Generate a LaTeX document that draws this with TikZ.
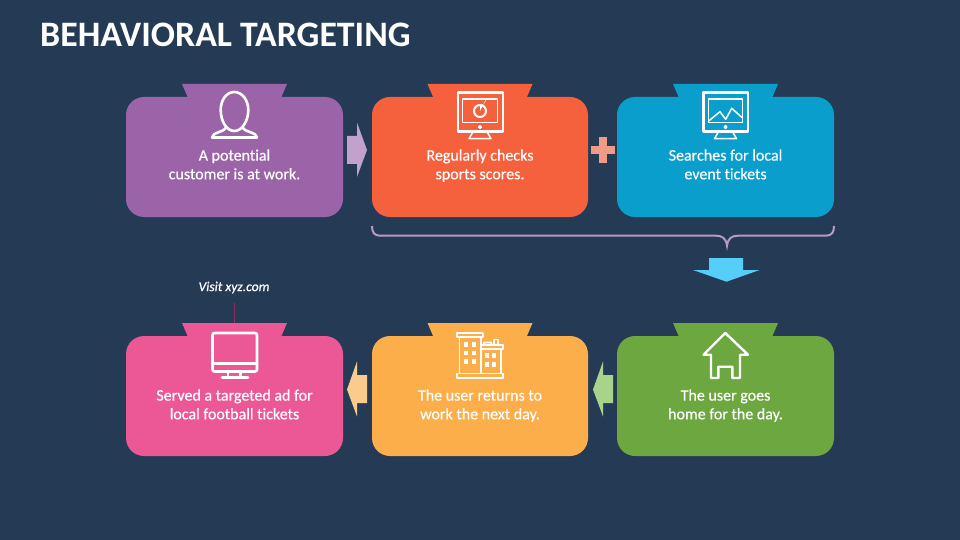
\documentclass[tikz,border=0pt]{standalone}
\usepackage{fontspec}
\setmainfont[Ligatures=NoCommon]{Carlito}
\newfontfamily\cardfont[Ligatures=NoCommon,FakeBold=0.35]{Carlito}
\newfontfamily\visitfont[Ligatures=NoCommon,FakeBold=0.7,ItalicFont={Carlito Italic}]{Carlito}
\definecolor{bg}{HTML}{253B55}
\definecolor{cpurple}{HTML}{9B63A8}
\definecolor{corange}{HTML}{F5603D}
\definecolor{cblue}{HTML}{0A9ECD}
\definecolor{cgreen}{HTML}{6CA73F}
\definecolor{cyellow}{HTML}{FBAE4A}
\definecolor{cpink}{HTML}{EB5895}
\definecolor{apurple}{HTML}{C2A1CD}
\definecolor{aplus}{HTML}{F09A88}
\definecolor{apeach}{HTML}{FBCB8E}
\definecolor{agreen}{HTML}{A7D38A}
\definecolor{acyan}{HTML}{55CFF8}
\definecolor{brace}{HTML}{B89AC8}
\definecolor{lead}{HTML}{8E2E62}
\tikzset{
  card/.style={rounded corners=18pt,minimum width=217pt,minimum height=120pt,inner sep=0pt,draw=none},
  cardtext/.style={text=white,align=center,inner sep=0pt,font=\cardfont\fontsize{16}{18.7}\selectfont},
  icon/.style={draw=white,line width=2.6pt,line join=round,line cap=round},
  iconthin/.style={draw=white,line width=1.5pt,line join=round,line cap=round},
  win/.style={fill=white,draw=none}
}
\newcommand{\cardtop}[3]{% colour, centre x, top y
  \fill[#1] (#2-52.5,#3) -- (#2+52.5,#3) -- (#2+46.5,#3+14) -- (#2-46.5,#3+14) -- cycle;}
\begin{document}
\begin{tikzpicture}[x=1pt,y=-1pt]
\useasboundingbox (0,0) rectangle (960,540);
\fill[bg] (0,0) rectangle (960,540);
\node[anchor=west,text=white,inner sep=0pt,font=\fontsize{35.8}{42}\selectfont\bfseries] (title) at (40,34.5) {BEHAVIORAL TARGETING};
% cards
\cardtop{cpurple}{234.5}{84}
\cardtop{corange}{480}{84}
\cardtop{cblue}{725.5}{84}
\cardtop{cpink}{234.5}{323}
\cardtop{cyellow}{480}{323}
\cardtop{cgreen}{725.5}{323}
\node[card,fill=cpurple] (c1) at (234.5,157) {};
\node[card,fill=corange,minimum width=216pt] (c2) at (480,157) {};
\node[card,fill=cblue] (c3) at (725.5,157) {};
\node[card,fill=cpink] (c4) at (234.5,396) {};
\node[card,fill=cyellow,minimum width=216pt] (c5) at (480,396) {};
\node[card,fill=cgreen] (c6) at (725.5,396) {};
% texts
\node[cardtext] (t1) at (234.5,166.2) {\strut A potential\\customer is at work.\strut};
\node[cardtext] (t2) at (480,166.2) {\strut Regularly checks\\sports scores.\strut};
\node[cardtext] (t3) at (725.5,166.2) {\strut Searches for local\\event tickets\strut};
\node[cardtext] (t4) at (234.5,406.2) {\strut Served a targeted ad for\\local football tickets\strut};
\node[cardtext] (t5) at (480,406.2) {\strut The user returns to\\work the next day.\strut};
\node[cardtext] (t6) at (725.5,406.2) {\strut The user goes\\home for the day.\strut};
% arrows
\fill[apurple] (347,136) -- (357,136) -- (357,122.5) -- (367,150) -- (357,177) -- (357,164) -- (347,164) -- cycle;
\fill[aplus] (599,137) rectangle (607,163);
\fill[aplus] (591,146) rectangle (615,154);
\fill[acyan] (709,258) -- (743,258) -- (743,270) -- (759.5,270) -- (726.5,281.7) -- (693,270) -- (709,270) -- cycle;
\fill[apeach] (367,375) -- (357,375) -- (357,361.5) -- (347,389.5) -- (357,416.5) -- (357,403) -- (367,403) -- cycle;
\fill[agreen] (613,375) -- (603,375) -- (603,361.5) -- (593,389.5) -- (603,416.5) -- (603,403) -- (613,403) -- cycle;
% brace
\draw[brace,line width=2pt] (372,226) .. controls (372,232) and (374,235.7) .. (380,235.7) -- (716,235.7) .. controls (722,235.7) and (726,238) .. (727,245.7) .. controls (728,238) and (732,235.7) .. (738,235.7) -- (826,235.7) .. controls (832,235.7) and (834,232) .. (834,226);
% leader
\node[text=white,inner sep=0pt,font=\visitfont\fontsize{13.6}{16}\selectfont\itshape] (visit) at (234,287.5) {Visit xyz.com};
\coordinate (leadstart) at (234,303);
\coordinate (leadend) at (234,323);
\draw[lead,line width=0.6pt] (leadstart) -- (leadend);
% person icon
\draw[icon] (234.3,92) .. controls (242,92) and (248.3,100) .. (248.3,110) .. controls (248.3,121) and (242,131) .. (234.3,131) .. controls (226.5,131) and (220.7,121) .. (220.7,110) .. controls (220.7,100) and (226.5,92) .. (234.3,92) -- cycle;
\draw[icon] (225.5,128) .. controls (224,132) and (212,132.5) .. (212,137.5) -- (257,137.5) .. controls (257,132.5) and (245,132) .. (243,128);
% monitor 1
\draw[icon] (458,92.7) rectangle (503,131.5);
\draw[iconthin] (462.5,99) rectangle (497.5,122.7);
\draw[iconthin] (480,127) circle (1.3);
\draw[iconthin] (473,131.7) -- (469,138.7) -- (491,138.7) -- (487,131.7);
\draw[white,line width=2pt] (480,111) circle (6);
\fill[white] (480,111) -- (480,105) arc[start angle=90,end angle=0,radius=6] -- cycle;
% monitor 2
\draw[icon] (703.5,92.7) rectangle (748,131.5);
\draw[iconthin] (708.7,99) rectangle (742.7,122.7);
\draw[iconthin] (725.5,127) circle (1.3);
\draw[iconthin] (718.5,131.7) -- (714.5,138.7) -- (736.5,138.7) -- (732.5,131.7);
\draw[iconthin] (709,120.7) -- (720,111.7) -- (725.7,119.3) -- (731.7,108.3) -- (741.7,117.3);
% pink monitor
\draw[icon,rounded corners=2pt] (212.5,333) rectangle (257,371.5);
\draw[icon] (212.5,363.3) -- (257,363.3);
\draw[icon] (228,371.5) -- (228,377.3);
\draw[icon] (240.5,371.5) -- (240.5,377.3);
\draw[icon] (222,377.3) -- (248,377.3);
% building
\draw[iconthin,line width=1.8pt] (457,333) rectangle (483,336.7);
\draw[iconthin,line width=1.8pt] (459.5,336.7) -- (459.5,373.3);
\draw[iconthin,line width=1.8pt] (480.7,336.7) -- (480.7,373.3);
\draw[iconthin,line width=1.8pt] (481.5,345) rectangle (503,349.3);
\draw[iconthin,line width=1.8pt] (501,349.3) -- (501,373.3);
\draw[iconthin,line width=1.8pt] (457,373.5) rectangle (503,378);
\draw[iconthin,line width=1.8pt] (483.5,345) -- (484,342.5) -- (491,342.5) -- (491.5,345);
\draw[iconthin,line width=1.8pt] (494,345) -- (494,339.5) -- (498.3,339.5) -- (498.3,345);
\fill[win] (464,342) rectangle (467.5,346.5);
\fill[win] (472.2,342) rectangle (475.7,346.5);
\fill[win] (464,350.7) rectangle (467.5,355.2);
\fill[win] (472.2,350.7) rectangle (475.7,355.2);
\fill[win] (464,359.2) rectangle (467.5,363.7);
\fill[win] (472.2,359.2) rectangle (475.7,363.7);
\fill[win] (485.3,353) rectangle (488.8,357.5);
\fill[win] (492.2,353) rectangle (495.7,357.5);
\fill[win] (485.3,362) rectangle (488.8,366.5);
\fill[win] (492.2,362) rectangle (495.7,366.5);
% house
\draw[icon,line width=2.4pt,line cap=butt,miter limit=10] (703.5,354.7) -- (725.3,333) -- (748,354.7) -- (740,354.7) -- (740,378) -- (732.3,378) -- (732.3,366.7) -- (718.3,366.7) -- (718.3,378) -- (711,378) -- (711,354.7) -- cycle;
\end{tikzpicture}
\end{document}
